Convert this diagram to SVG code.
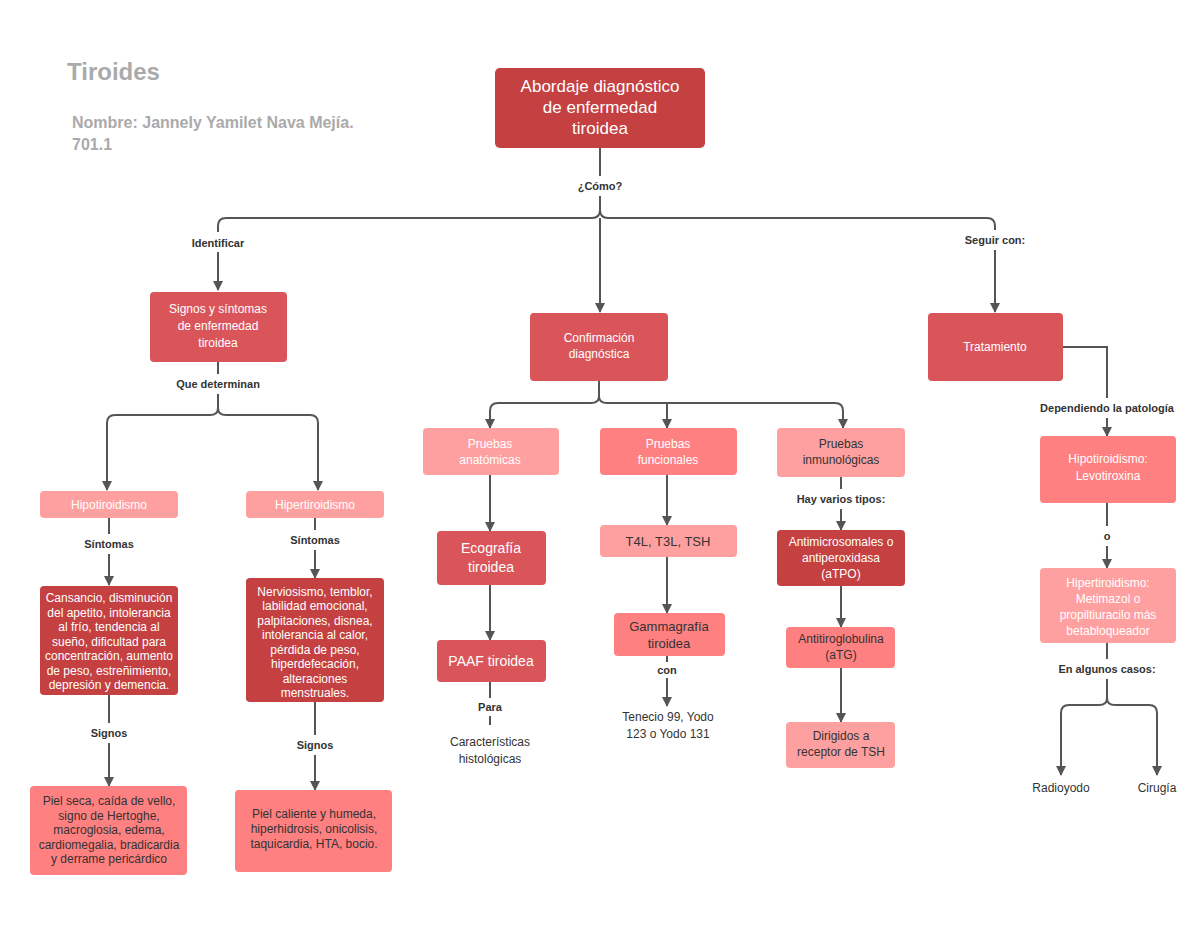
<svg xmlns="http://www.w3.org/2000/svg" width="1200" height="927" viewBox="0 0 1200 927">
<defs>
<marker id="a" viewBox="0 0 10 10" refX="9" refY="5" markerWidth="10" markerHeight="12" markerUnits="userSpaceOnUse" orient="auto"><path d="M0,0 L10,5 L0,10 z" fill="#555"/></marker>
<style>
text{font-family:"Liberation Sans",Arial,sans-serif;text-anchor:middle}
.w{fill:#fff;font-size:12px}
.d{fill:#333;font-size:12px}
.l{fill:#333;font-size:11px;font-weight:bold}
.c{fill:none;stroke:#555;stroke-width:2}
.dk{fill:#c44041}.md{fill:#da555a}.sl{fill:#ff8080}.pl{fill:#ffa0a0}
</style>
</defs>
<rect width="1200" height="927" fill="#fff"/>
<g id="title">
<text x="67" y="80" style="text-anchor:start;font-size:24px;font-weight:bold;fill:#aaa">Tiroides</text>
<text x="72" y="128" style="text-anchor:start;font-size:16px;font-weight:bold;fill:#aaa">Nombre: Jannely Yamilet Nava Mejía.</text>
<text x="72" y="150" style="text-anchor:start;font-size:16px;font-weight:bold;fill:#aaa">701.1</text>
</g>
<g id="connectors">
<path class="c" d="M600,148 V176 M600,196 V210 Q600,218 592,218 H226 Q218,218 218,226 V232 M218,252 V290" marker-end="url(#a)"/>
<path class="c" d="M600,210 Q600,218 608,218 H987 Q995,218 995,226 V230 M995,250 V312" marker-end="url(#a)"/>
<path class="c" d="M600,218 V312" marker-end="url(#a)"/>
<path class="c" d="M218,362 V374 M218,394 V408 Q218,415 210,415 H115 Q107,415 107,423 V490" marker-end="url(#a)"/>
<path class="c" d="M218,408 Q218,415 226,415 H310 Q318,415 318,423 V490" marker-end="url(#a)"/>
<path class="c" d="M109,518 V534 M109,554 V585" marker-end="url(#a)"/>
<path class="c" d="M109,695 V723 M109,743 V786" marker-end="url(#a)"/>
<path class="c" d="M315,518 V530 M315,550 V578" marker-end="url(#a)"/>
<path class="c" d="M315,702 V735 M315,755 V790" marker-end="url(#a)"/>
<path class="c" d="M599,381 V396 Q599,403 591,403 H498 Q490,403 490,411 V428" marker-end="url(#a)"/>
<path class="c" d="M599,396 Q599,403 607,403 H835 Q843,403 843,411 V428" marker-end="url(#a)"/>
<path class="c" d="M667,403 V428" marker-end="url(#a)"/>
<path class="c" d="M490,475 V531" marker-end="url(#a)"/>
<path class="c" d="M490,585 V640" marker-end="url(#a)"/>
<path class="c" d="M490,682 V698 M490,716 V725"/>
<path class="c" d="M667,475 V525" marker-end="url(#a)"/>
<path class="c" d="M667,557 V613" marker-end="url(#a)"/>
<path class="c" d="M667,656 V662 M667,678 V706" marker-end="url(#a)"/>
<path class="c" d="M841,477 V489 M841,509 V530" marker-end="url(#a)"/>
<path class="c" d="M841,586 V627" marker-end="url(#a)"/>
<path class="c" d="M841,668 V722" marker-end="url(#a)"/>
<path class="c" d="M1063,347 H1107 V398 M1107,418 V436" marker-end="url(#a)"/>
<path class="c" d="M1107,503 V526 M1107,546 V568" marker-end="url(#a)"/>
<path class="c" d="M1107,643 V659 M1107,679 V698 Q1107,705 1099,705 H1069 Q1061,705 1061,713 V775" marker-end="url(#a)"/>
<path class="c" d="M1107,698 Q1107,705 1115,705 H1149 Q1157,705 1157,713 V775" marker-end="url(#a)"/>
<text class="l" x="600" y="190">¿Cómo?</text>
<text class="l" x="218" y="247">Identificar</text>
<text class="l" x="995" y="244">Seguir con:</text>
<text class="l" x="218" y="388">Que determinan</text>
<text class="l" x="109" y="548">Síntomas</text>
<text class="l" x="315" y="544">Síntomas</text>
<text class="l" x="109" y="737">Signos</text>
<text class="l" x="315" y="749">Signos</text>
<text class="l" x="490" y="711">Para</text>
<text class="l" x="667" y="674">con</text>
<text class="l" x="841" y="503">Hay varios tipos:</text>
<text class="l" x="1107" y="412">Dependiendo la patología</text>
<text class="l" x="1107" y="540">o</text>
<text class="l" x="1107" y="673">En algunos casos:</text>
</g>
<g id="n-top"><rect class="dk" x="495" y="68" width="210" height="80" rx="5"/>
<text x="600" y="92" style="fill:#fff;font-size:17px">Abordaje diagnóstico</text><text x="600" y="113" style="fill:#fff;font-size:17px">de enfermedad</text><text x="600" y="134" style="fill:#fff;font-size:17px">tiroidea</text></g>
<g id="n-signos"><rect class="md" x="150" y="292" width="137" height="70" rx="4"/>
<text class="w" x="218" y="313">Signos y síntomas</text><text class="w" x="218" y="330">de enfermedad</text><text class="w" x="218" y="347">tiroidea</text></g>
<g id="n-hipo"><rect class="pl" x="40" y="491" width="138" height="27" rx="4"/><text class="w" x="109" y="509">Hipotiroidismo</text></g>
<g id="n-hiper"><rect class="pl" x="246" y="491" width="138" height="27" rx="4"/><text class="w" x="315" y="509">Hipertiroidismo</text></g>
<g id="n-cans"><rect class="dk" x="40" y="586" width="138" height="109" rx="4"/>
<text class="w" x="109" y="602">Cansancio, disminución</text><text class="w" x="109" y="617">del apetito, intolerancia</text><text class="w" x="109" y="631">al frío, tendencia al</text><text class="w" x="109" y="646">sueño, dificultad para</text><text class="w" x="109" y="660">concentración, aumento</text><text class="w" x="109" y="675">de peso, estreñimiento,</text><text class="w" x="109" y="689">depresión y demencia.</text></g>
<g id="n-nerv"><rect class="dk" x="246" y="578" width="138" height="124" rx="4"/>
<text class="w" x="315" y="596">Nerviosismo, temblor,</text><text class="w" x="315" y="610">labilidad emocional,</text><text class="w" x="315" y="625">palpitaciones, disnea,</text><text class="w" x="315" y="639">intolerancia al calor,</text><text class="w" x="315" y="654">pérdida de peso,</text><text class="w" x="315" y="668">hiperdefecación,</text><text class="w" x="315" y="683">alteraciones</text><text class="w" x="315" y="697">menstruales.</text></g>
<g id="n-pielseca"><rect class="sl" x="30" y="786" width="157" height="89" rx="4"/>
<text class="d" x="109" y="805">Piel seca, caída de vello,</text><text class="d" x="109" y="820">signo de Hertoghe,</text><text class="d" x="109" y="834">macroglosia, edema,</text><text class="d" x="109" y="849">cardiomegalia, bradicardia</text><text class="d" x="109" y="863">y derrame pericárdico</text></g>
<g id="n-pielcal"><rect class="sl" x="235" y="790" width="157" height="82" rx="4"/>
<text class="d" x="314" y="818">Piel caliente y humeda,</text><text class="d" x="314" y="833">hiperhidrosis, onicolisis,</text><text class="d" x="314" y="848">taquicardia, HTA, bocio.</text></g>
<g id="n-conf"><rect class="md" x="530" y="313" width="138" height="68" rx="4"/>
<text class="w" x="599" y="342">Confirmación</text><text class="w" x="599" y="358">diagnóstica</text></g>
<g id="n-anat"><rect class="pl" x="423" y="428" width="136" height="47" rx="4"/>
<text class="w" x="490" y="448">Pruebas</text><text class="w" x="490" y="464">anatómicas</text></g>
<g id="n-func"><rect class="sl" x="600" y="428" width="137" height="47" rx="4"/>
<text class="w" x="668" y="448">Pruebas</text><text class="w" x="668" y="464">funcionales</text></g>
<g id="n-inm"><rect class="pl" x="777" y="428" width="128" height="49" rx="4"/>
<text class="d" x="841" y="448">Pruebas</text><text class="d" x="841" y="464">inmunológicas</text></g>
<g id="n-eco"><rect class="md" x="437" y="531" width="109" height="54" rx="4"/>
<text class="w" x="491" y="553" style="font-size:14px">Ecografía</text><text class="w" x="491" y="572" style="font-size:14px">tiroidea</text></g>
<g id="n-paaf"><rect class="md" x="437" y="640" width="109" height="42" rx="4"/><text class="w" x="491" y="666" style="font-size:14px">PAAF tiroidea</text></g>
<text class="d" x="490" y="746">Características</text><text class="d" x="490" y="763">histológicas</text>
<g id="n-t4"><rect class="pl" x="600" y="525" width="137" height="32" rx="4"/><text class="d" x="668" y="546" style="font-size:13px">T4L, T3L, TSH</text></g>
<g id="n-gam"><rect class="sl" x="614" y="613" width="111" height="43" rx="4"/>
<text class="d" x="669" y="631" style="font-size:13px">Gammagrafía</text><text class="d" x="669" y="648" style="font-size:13px">tiroidea</text></g>
<text class="d" x="668" y="721">Tenecio 99, Yodo</text><text class="d" x="668" y="738">123 o Yodo 131</text>
<g id="n-atpo"><rect class="dk" x="777" y="530" width="128" height="56" rx="4"/>
<text class="w" x="841" y="546">Antimicrosomales o</text><text class="w" x="841" y="562">antiperoxidasa</text><text class="w" x="841" y="578">(aTPO)</text></g>
<g id="n-atg"><rect class="sl" x="786" y="627" width="109" height="41" rx="4"/>
<text class="d" x="841" y="643">Antitiroglobulina</text><text class="d" x="841" y="659">(aTG)</text></g>
<g id="n-dir"><rect class="pl" x="786" y="722" width="109" height="46" rx="4"/>
<text class="d" x="841" y="740">Dirigidos a</text><text class="d" x="841" y="756">receptor de TSH</text></g>
<g id="n-trat"><rect class="md" x="928" y="313" width="135" height="68" rx="4"/><text class="w" x="995" y="351">Tratamiento</text></g>
<g id="n-levo"><rect class="sl" x="1040" y="436" width="136" height="67" rx="4"/>
<text class="w" x="1108" y="463">Hipotiroidismo:</text><text class="w" x="1108" y="480">Levotiroxina</text></g>
<g id="n-meti"><rect class="pl" x="1040" y="568" width="136" height="75" rx="4"/>
<text class="w" x="1108" y="587">Hipertiroidismo:</text><text class="w" x="1108" y="603">Metimazol o</text><text class="w" x="1108" y="619">propiltiuracilo más</text><text class="w" x="1108" y="635">betabloqueador</text></g>
<text class="d" x="1061" y="792">Radioyodo</text><text class="d" x="1157" y="792">Cirugía</text>
</svg>
